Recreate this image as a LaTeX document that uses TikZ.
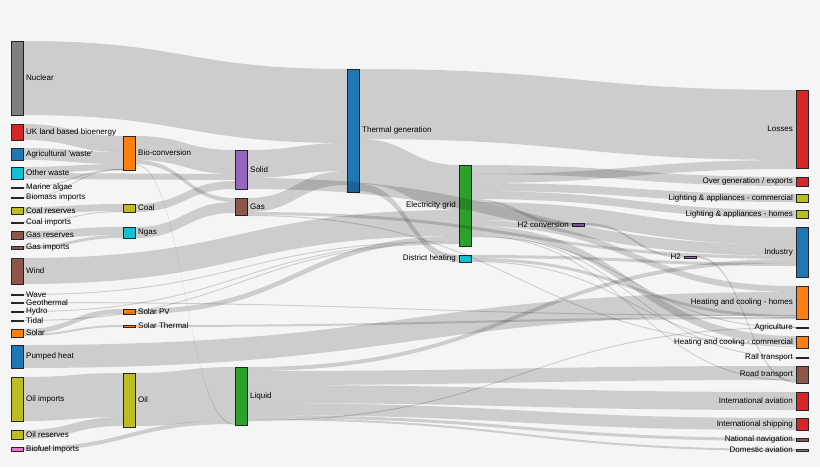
\documentclass[tikz,border=0pt]{standalone}
\usepackage{fontspec}
\setmainfont{Liberation Sans}
\usetikzlibrary{calc}
\definecolor{bg}{HTML}{F5F5F5}
\definecolor{cgray}{HTML}{7F7F7F}
\definecolor{cred}{HTML}{D62728}
\definecolor{cblue}{HTML}{1F77B4}
\definecolor{ccyan}{HTML}{17BECF}
\definecolor{colive}{HTML}{BCBD22}
\definecolor{cbrown}{HTML}{8C564B}
\definecolor{corange}{HTML}{FF7F0E}
\definecolor{cpink}{HTML}{E377C2}
\definecolor{cpurple}{HTML}{9467BD}
\definecolor{cgreen}{HTML}{2CA02C}
\tikzset{
  nb/.style={draw=black!85,line width=0.5pt,minimum width=12pt,inner sep=0pt,anchor=north west,outer sep=0pt},
  lbl/.style={font=\fontsize{8}{9}\selectfont,text=black,inner sep=3pt},
  linkc/.style={fill=black,fill opacity=0.16}
}
\newcommand\nd[7]{\node[nb,fill=#5,minimum height={max(#4-#3,1)},label={[lbl]#7:#6}] (#1) at (#2,#3) {};}
\newcommand\lnk[5]{\fill[linkc] let \p1=($(#1.north east)+(0,#2)$), \p2=($(#4.north west)+(0,#5)$), \n1={(\x2-\x1)/2} in
 (\p1) .. controls ($(\p1)+(\n1,0)$) and ($(\p2)+(-\n1,0)$) .. (\p2) -- ($(\p2)+(0,#3)$) .. controls ($(\p2)+(-\n1,#3)$) and ($(\p1)+(\n1,#3)$) .. ($(\p1)+(0,#3)$) -- cycle;}
\begin{document}
\begin{tikzpicture}[x=1pt,y=-1pt]
\useasboundingbox[fill=bg] (0,0) rectangle (820,467);
% column 0
\nd{nuc}{11}{41}{115}{cgray}{Nuclear}{right}
\nd{ukl}{11}{124}{140}{cred}{UK land based bioenergy}{right}
\nd{agr}{11}{148}{160}{cblue}{Agricultural 'waste'}{right}
\nd{oth}{11}{167}{179}{ccyan}{Other waste}{right}
\nd{mar}{11}{187}{187}{cgray}{Marine algae}{right}
\nd{bim}{11}{197}{197}{cgray}{Biomass imports}{right}
\nd{cre}{11}{207}{214}{colive}{Coal reserves}{right}
\nd{cim}{11}{222}{222}{cgray}{Coal imports}{right}
\nd{gre}{11}{231}{239}{cbrown}{Gas reserves}{right}
\nd{gim}{11}{246}{249}{cbrown}{Gas imports}{right}
\nd{win}{11}{258}{284}{cbrown}{Wind}{right}
\nd{wav}{11}{294}{294}{cgray}{Wave}{right}
\nd{geo}{11}{302}{302}{cgray}{Geothermal}{right}
\nd{hyd}{11}{311}{311}{cgray}{Hydro}{right}
\nd{tid}{11}{320}{320}{cgray}{Tidal}{right}
\nd{sol}{11}{329}{337}{corange}{Solar}{right}
\nd{pum}{11}{345}{368}{cblue}{Pumped heat}{right}
\nd{oim}{11}{377}{421}{colive}{Oil imports}{right}
\nd{ore}{11}{430}{439}{colive}{Oil reserves}{right}
\nd{bfi}{11}{447}{451}{cpink}{Biofuel imports}{right}
% column 1
\nd{bio}{123}{136}{170}{corange}{Bio-conversion}{right}
\nd{coal}{123}{204}{212}{colive}{Coal}{right}
\nd{ngas}{123}{227}{238}{ccyan}{Ngas}{right}
\nd{spv}{123}{309}{314}{corange}{Solar PV}{right}
\nd{sth}{123}{325}{327}{corange}{Solar Thermal}{right}
\nd{oil}{123}{373}{427}{colive}{Oil}{right}
% column 2
\nd{solid}{235}{150}{189}{cpurple}{Solid}{right}
\nd{gas}{235}{198}{215}{cbrown}{Gas}{right}
\nd{liq}{235}{367}{425}{cgreen}{Liquid}{right}
% column 3+
\nd{thg}{347}{69}{192}{cblue}{Thermal generation}{right}
\nd{grid}{459}{165}{246}{cgreen}{Electricity grid}{left}
\nd{dh}{459}{255}{262}{ccyan}{District heating}{left}
\nd{h2c}{572}{223}{226}{cpurple}{H2 conversion}{left}
\nd{h2}{684}{256}{258}{cpurple}{H2}{left}
% right column
\nd{los}{796}{90}{168}{cred}{Losses}{left}
\nd{ovg}{796}{177}{186}{cred}{Over generation / exports}{left}
\nd{lac}{796}{194}{202}{colive}{Lighting \& appliances - commercial}{left}
\nd{lah}{796}{210}{218}{colive}{Lighting \& appliances - homes}{left}
\nd{ind}{796}{227}{277}{cblue}{Industry}{left}
\nd{hch}{796}{286}{319}{corange}{Heating and cooling - homes}{left}
\nd{agc}{796}{327}{327}{cgray}{Agriculture}{left}
\nd{hcc}{796}{336}{348}{corange}{Heating and cooling - commercial}{left}
\nd{rai}{796}{357}{357}{cgray}{Rail transport}{left}
\nd{roa}{796}{366}{383}{cbrown}{Road transport}{left}
\nd{iav}{796}{392}{410}{cred}{International aviation}{left}
\nd{ish}{796}{418}{430}{cred}{International shipping}{left}
\nd{nnv}{796}{438}{441}{cbrown}{National navigation}{left}
\nd{dav}{796}{449}{451}{cgray}{Domestic aviation}{left}
% links
\lnk{nuc}{0}{74}{thg}{0}
\lnk{ukl}{0}{16}{bio}{0}
\lnk{agr}{0}{12}{bio}{16}
\lnk{oth}{0}{6}{bio}{28}
\lnk{oth}{6}{6}{solid}{24}
\lnk{mar}{0}{1}{bio}{33}
\lnk{bim}{0}{1}{bio}{33}
\lnk{cre}{0}{7}{coal}{0}
\lnk{cim}{0}{1}{coal}{7}
\lnk{gre}{0}{8}{ngas}{0}
\lnk{gim}{0}{3}{ngas}{8}
\lnk{bio}{0}{24}{solid}{0}
\lnk{bio}{24}{4}{gas}{0}
\lnk{bio}{28}{1}{liq}{57}
\lnk{coal}{0}{8}{solid}{31}
\lnk{ngas}{0}{11}{gas}{4}
\lnk{oim}{0}{44}{oil}{0}
\lnk{ore}{0}{9}{oil}{44}
\lnk{oil}{0}{53}{liq}{0}
\lnk{bfi}{0}{4}{liq}{53}
\lnk{solid}{0}{28}{thg}{74}
\lnk{solid}{28}{11}{ind}{18}
\lnk{gas}{0}{14}{thg}{102}
\lnk{gas}{14}{3}{ind}{29}
\lnk{gas}{17}{1}{hcc}{8}
\lnk{liq}{0}{4}{ind}{32}
\lnk{liq}{4}{14}{roa}{0}
\lnk{liq}{18}{18}{iav}{0}
\lnk{liq}{36}{12}{ish}{0}
\lnk{liq}{48}{3}{nnv}{0}
\lnk{liq}{51}{2}{dav}{0}
\lnk{liq}{53}{1}{agc}{0}
\lnk{thg}{0}{70}{los}{0}
\lnk{thg}{70}{45}{grid}{0}
\lnk{thg}{115}{7}{dh}{0}
\lnk{win}{0}{26}{grid}{45}
\lnk{spv}{0}{5}{grid}{71}
\lnk{wav}{0}{1}{grid}{76}
\lnk{hyd}{0}{1}{grid}{77}
\lnk{tid}{0}{1}{grid}{78}
\lnk{geo}{0}{1}{hch}{29}
\lnk{sol}{0}{5}{spv}{0}
\lnk{sol}{5}{2}{sth}{0}
\lnk{sth}{0}{2}{hch}{31}
\lnk{pum}{0}{23}{hch}{6}
\lnk{grid}{0}{9}{ovg}{0}
\lnk{grid}{9}{9}{los}{70}
\lnk{grid}{18}{8}{lac}{0}
\lnk{grid}{26}{8}{lah}{0}
\lnk{grid}{34}{3}{h2c}{0}
\lnk{grid}{37}{18}{ind}{0}
\lnk{grid}{55}{6}{hch}{0}
\lnk{grid}{61}{8}{hcc}{0}
\lnk{grid}{69}{1}{rai}{0}
\lnk{grid}{70}{1}{roa}{14}
\lnk{grid}{71}{1}{agc}{0}
\lnk{dh}{0}{3}{ind}{36}
\lnk{dh}{3}{3}{hch}{29}
\lnk{dh}{6}{1}{hcc}{10}
\lnk{h2c}{0}{2}{h2}{0}
\lnk{h2}{0}{2}{roa}{15}
\end{tikzpicture}
\end{document}
